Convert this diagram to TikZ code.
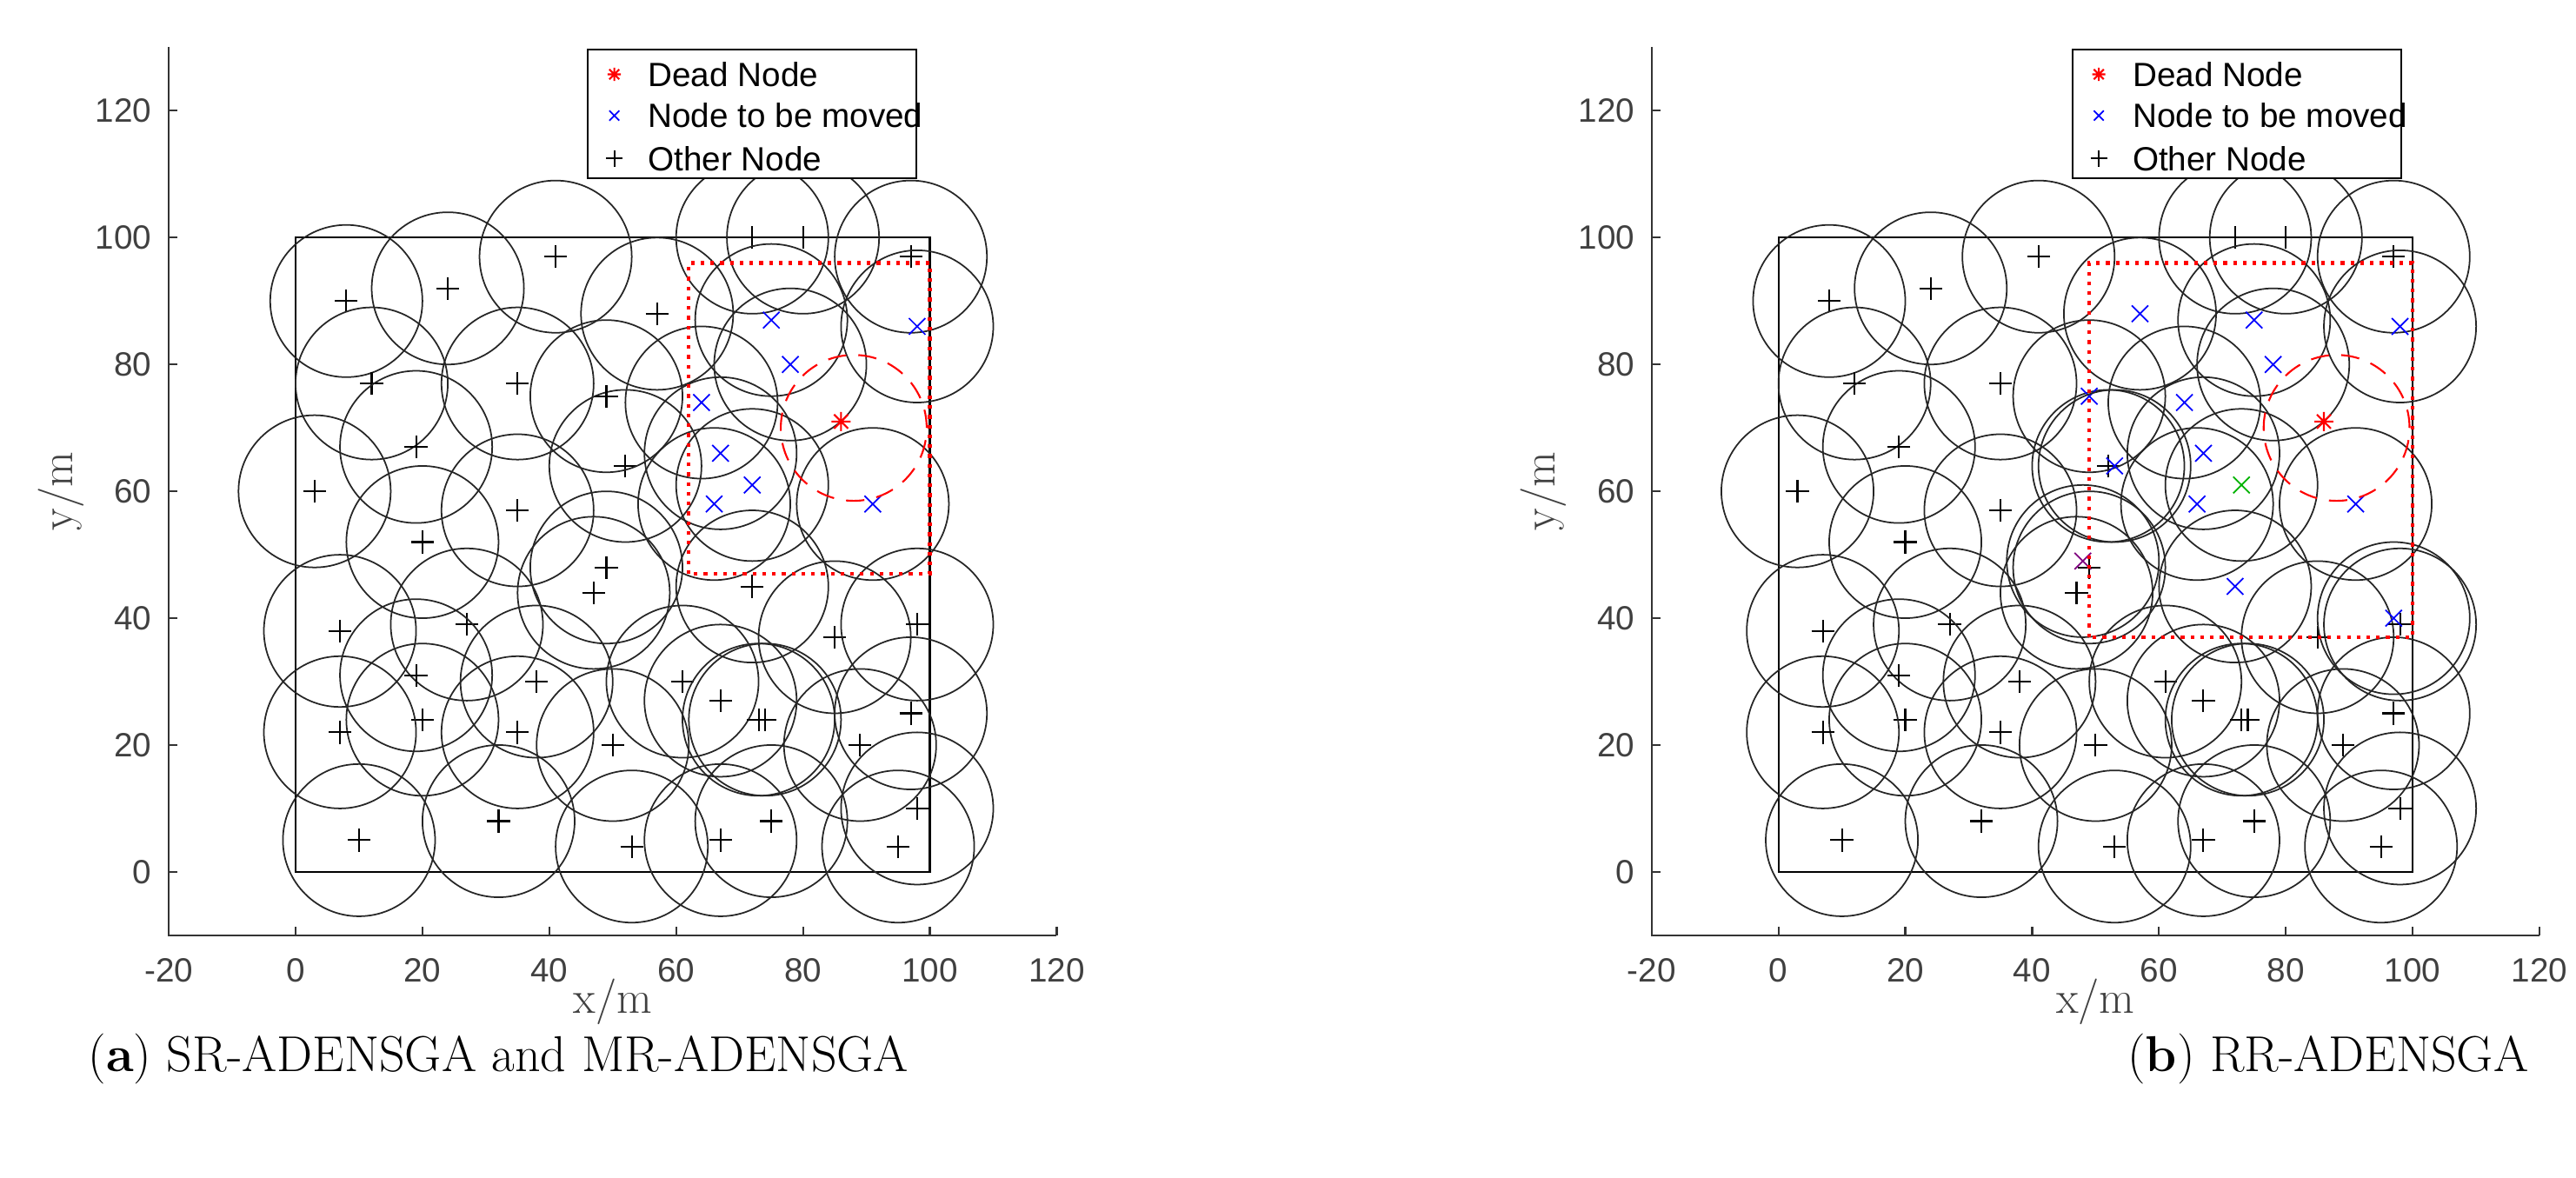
\documentclass[tikz,border=0pt]{standalone}
\usepackage{fontspec}
\newfontfamily\arialf{Liberation Sans}
\begin{document}
\begin{tikzpicture}[x=0.019cm,y=0.019cm,
  cir/.style={draw=black!85,line width=0.5pt},
  ticklab/.style={font=\arialf\fontsize{11}{11}\selectfont,text=black!75},
  axlab/.style={font=\fontsize{15}{15}\selectfont,text=black!75},
  capt/.style={font=\fontsize{16.5}{16.5}\selectfont,anchor=base west}]
\useasboundingbox (0,0) rectangle (1560,713);
\def\plotpanel#1#2#3{%
\begin{scope}[shift={(#1,185)},x=0.07296cm,y=0.07296cm]
  \draw[line width=0.6pt,black!80] (-20,130) -- (-20,-10) -- (120,-10);
  \foreach \t in {-20,0,...,120}{\draw[line width=0.6pt,black!80] (\t,-10)--(\t,-8.6);
     \node[ticklab,below] (xt\t) at (\t,-12) {\t};}
  \foreach \t in {0,20,...,120}{\draw[line width=0.6pt,black!80] (-20,\t)--(-18.6,\t);
     \node[ticklab,left] (yt\t) at (-21,\t) {\t};}
  \node[axlab] (xl) at (50,-20.5) {x/m};
  \node[axlab,rotate=90] (yl) at (-37,60) {y/m};
  \draw[line width=0.6pt] (0,0) rectangle (100,100);
  \foreach \a/\b in #2{
    \draw[cir] (\a,\b) circle (12);
    \draw[line width=0.6pt] (\a-1.8,\b)--(\a+1.8,\b) (\a,\b-1.8)--(\a,\b+1.8);}
  #3
  \draw[red,line width=0.6pt] (86,71) ++(-1.5,0)--++(3,0) (86,71) ++(0,-1.5)--++(0,3)
     (86,71) ++(-1.1,-1.1)--++(2.2,2.2) (86,71) ++(-1.1,1.1)--++(2.2,-2.2);
  \draw[red,line width=0.6pt,dash pattern=on 6pt off 4pt] (88,70) circle (11.5);
\end{scope}}
\def\others{41/97,72/100,80/100,97/97,8/90,24/92,12/77,35/77,19/67,52/64,3/60,20/52,35/57,49/48,47/44,7/38,27/39,19/31,38/30,61/30,85/37,98/39,20/24,35/22,50/20,67/27,73/24,74/24,97/25,7/22,89/20,32/8,10/5,53/4,67/5,75/8,95/4,98/10}
\edef\leftlist{\others,57/88,49/75,72/45}
\def\mov#1#2#3{\draw[cir] (#1,#2) circle (12);
  \draw[#3,line width=0.5pt] (#1-1.3,#2-1.3)--(#1+1.3,#2+1.3) (#1-1.3,#2+1.3)--(#1+1.3,#2-1.3);}
\plotpanel{179}{\leftlist}{%
  \foreach \a/\b in {75/87,98/86,78/80,64/74,67/66,72/61,66/58,91/58}{\mov{\a}{\b}{blue}}
  \draw[red,line width=1.2pt,dotted] (62,47) rectangle (100,96);}
\plotpanel{1077}{\others}{%
  \foreach \a/\b in {57/88,75/87,98/86,78/80,49/75,64/74,53/64,67/66,66/58,91/58,72/45,97/40}{\mov{\a}{\b}{blue}}
  \mov{48}{49}{violet}
  \mov{73}{61}{green!70!black}
  \draw[red,line width=1.2pt,dotted] (49,37) rectangle (100,96);}
\foreach \lx/\nm in {356/L,1255/R}{
  \draw[line width=0.5pt,fill=white] (\lx,605) rectangle (\lx+199,683);
  \draw[red,line width=0.6pt] (\lx+16,668) ++(-4,0)--++(8,0) (\lx+16,668) ++(0,-4)--++(0,8)
     (\lx+16,668) ++(-3,-3)--++(6,6) (\lx+16,668) ++(-3,3)--++(6,-6);
  \draw[blue,line width=0.5pt] (\lx+13,640)--(\lx+19,646) (\lx+13,646)--(\lx+19,640);
  \draw[line width=0.6pt] (\lx+11,617)--(\lx+21,617) (\lx+16,612)--(\lx+16,622);
  \node[ticklab,anchor=west,text=black] (d\nm) at (\lx+30,668) {Dead Node};
  \node[ticklab,anchor=west,text=black] (m\nm) at (\lx+30,643) {Node to be moved};
  \node[ticklab,anchor=west,text=black] (o\nm) at (\lx+30,617) {Other Node};}
\node[capt] (ca) at (47,64) {(\textbf{a}) SR-ADENSGA and MR-ADENSGA};
\node[capt] (cb) at (1282,64) {(\textbf{b}) RR-ADENSGA};
\end{tikzpicture}
\end{document}
